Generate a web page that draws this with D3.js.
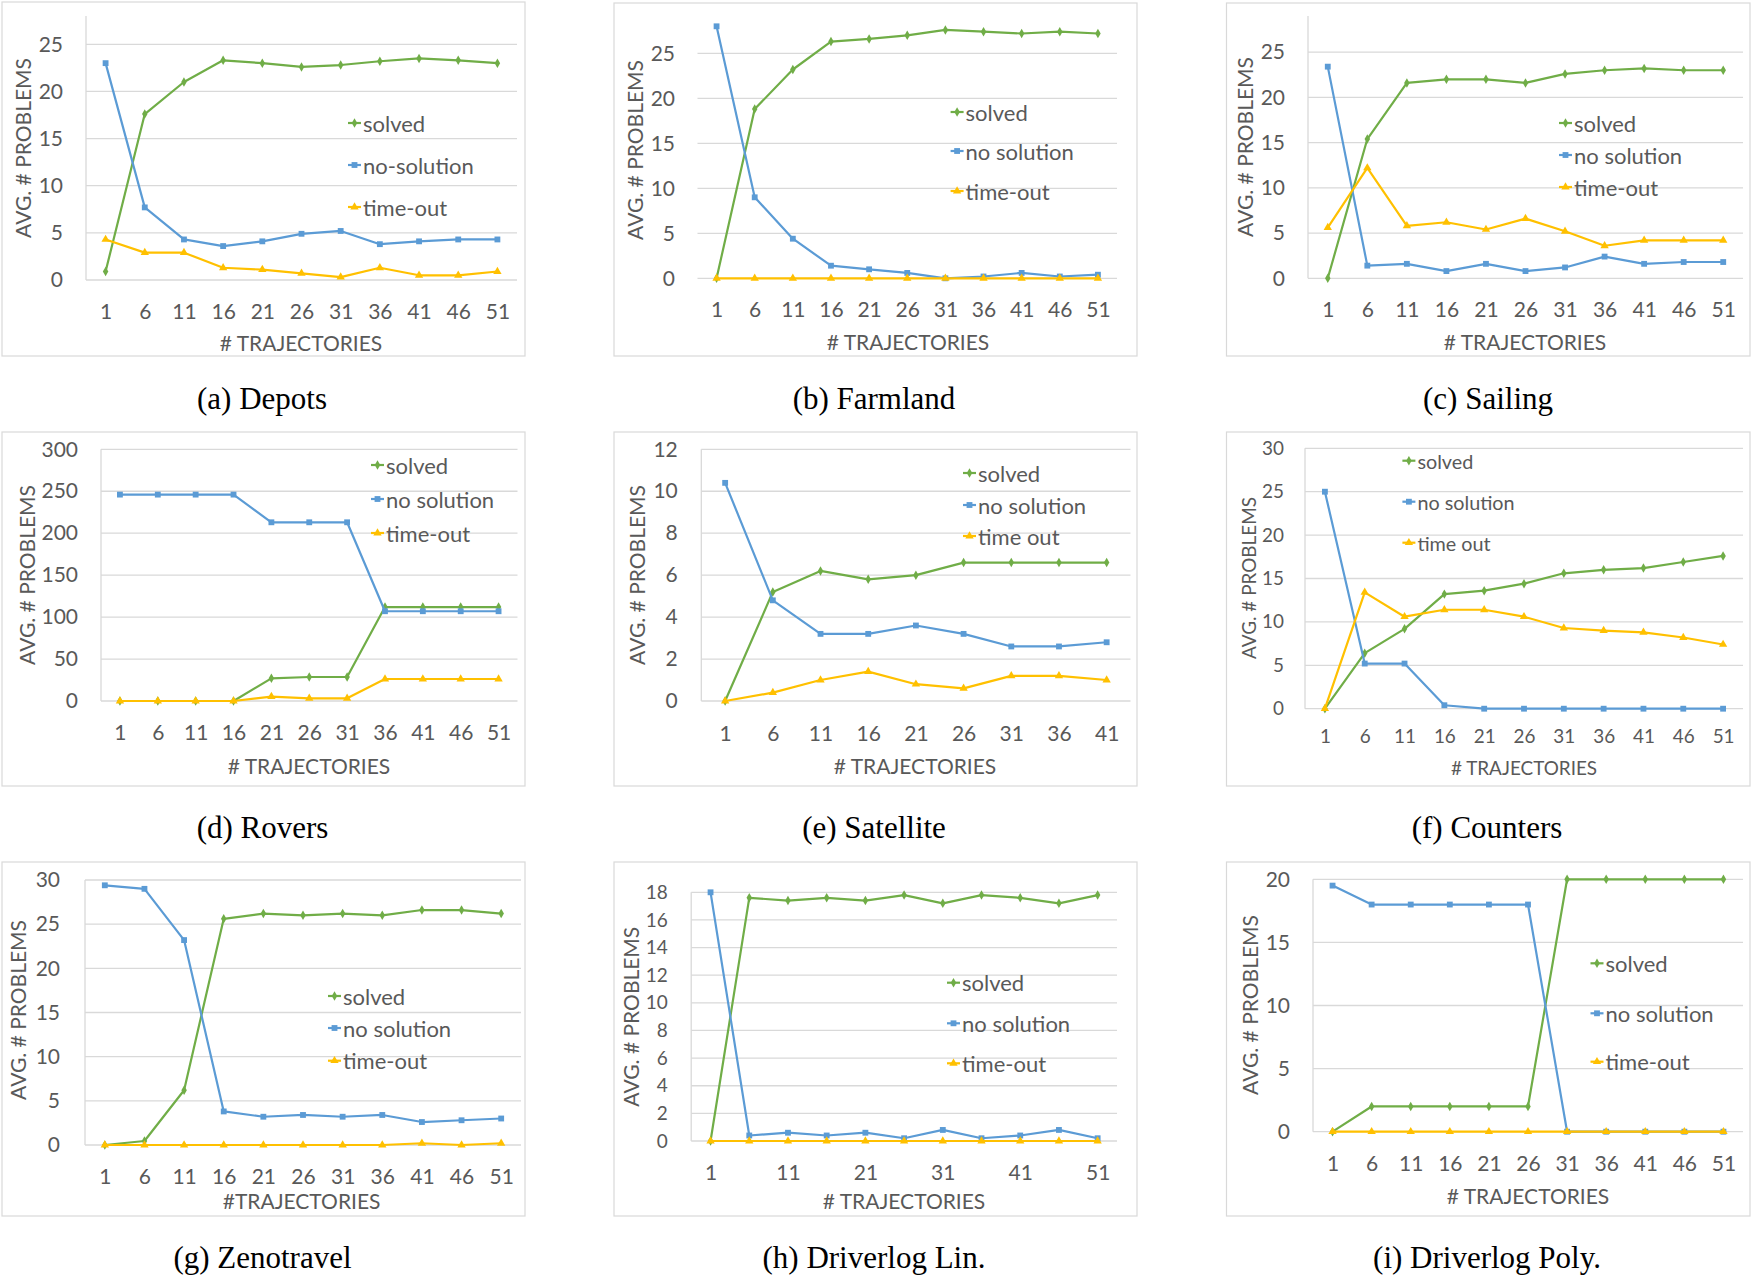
<!DOCTYPE html>
<html>
<head>
<meta charset="utf-8">
<script src="https://cdn.jsdelivr.net/npm/d3@7"></script>
<style>
  body { margin: 0; background: #fff; }
  svg text { font-family: Lato, "Open Sans", sans-serif; }
</style>
</head>
<body>
<svg id="chart"></svg>
<script>
// x categories (# trajectories)
const trajectories = [1, 6, 11, 16, 21, 26, 31, 36, 41, 46, 51];
const trajectoriesSatellite = [1, 6, 11, 16, 21, 26, 31, 36, 41];

// (a) Depots
const depotsSolved = [0.9, 17.6, 21.0, 23.3, 23.0, 22.6, 22.8, 23.2, 23.5, 23.3, 23.0];
const depotsNoSolution = [23.0, 7.7, 4.3, 3.6, 4.1, 4.9, 5.2, 3.8, 4.1, 4.3, 4.3];
const depotsTimeout = [4.3, 2.9, 2.9, 1.3, 1.1, 0.7, 0.3, 1.3, 0.5, 0.5, 0.9];

// (b) Farmland
const farmlandSolved = [0, 18.8, 23.2, 26.3, 26.6, 27.0, 27.6, 27.4, 27.2, 27.4, 27.2];
const farmlandNoSolution = [28.0, 9.0, 4.4, 1.4, 1.0, 0.6, 0, 0.2, 0.6, 0.2, 0.4];
const farmlandTimeout = [0, 0, 0, 0, 0, 0, 0, 0, 0, 0, 0];

// (c) Sailing
const sailingSolved = [0, 15.4, 21.6, 22.0, 22.0, 21.6, 22.6, 23.0, 23.2, 23.0, 23.0];
const sailingNoSolution = [23.4, 1.4, 1.6, 0.8, 1.6, 0.8, 1.2, 2.4, 1.6, 1.8, 1.8];
const sailingTimeout = [5.6, 12.2, 5.8, 6.2, 5.4, 6.6, 5.2, 3.6, 4.2, 4.2, 4.2];

// (d) Rovers
const roversSolved = [0, 0, 0, 0, 27, 28.6, 28.6, 112, 112, 112, 112];
const roversNoSolution = [246, 246, 246, 246, 213, 213, 213, 107, 107, 107, 107];
const roversTimeout = [0, 0, 0, 0, 5.2, 3.2, 3.2, 26.2, 26.2, 26.2, 26.2];

// (e) Satellite
const satelliteSolved = [0, 5.2, 6.2, 5.8, 6.0, 6.6, 6.6, 6.6, 6.6];
const satelliteNoSolution = [10.4, 4.8, 3.2, 3.2, 3.6, 3.2, 2.6, 2.6, 2.8];
const satelliteTimeout = [0, 0.4, 1.0, 1.4, 0.8, 0.6, 1.2, 1.2, 1.0];

// (f) Counters
const countersSolved = [0, 6.4, 9.2, 13.2, 13.6, 14.4, 15.6, 16.0, 16.2, 16.9, 17.6];
const countersNoSolution = [25.0, 5.2, 5.2, 0.4, 0, 0, 0, 0, 0, 0, 0];
const countersTimeout = [0, 13.4, 10.6, 11.4, 11.4, 10.6, 9.3, 9.0, 8.8, 8.2, 7.4];

// (g) Zenotravel
const zenoSolved = [0, 0.45, 6.2, 25.6, 26.2, 26.0, 26.2, 26.0, 26.6, 26.6, 26.2];
const zenoNoSolution = [29.4, 29.0, 23.2, 3.8, 3.2, 3.4, 3.2, 3.4, 2.6, 2.8, 3.0];
const zenoTimeout = [0, 0, 0, 0, 0, 0, 0, 0, 0.2, 0, 0.2];

// (h) Driverlog Lin.
const driverLinSolved = [0, 17.6, 17.4, 17.6, 17.4, 17.8, 17.2, 17.8, 17.6, 17.2, 17.8];
const driverLinNoSolution = [18.0, 0.4, 0.6, 0.4, 0.6, 0.2, 0.8, 0.2, 0.4, 0.8, 0.2];
const driverLinTimeout = [0, 0, 0, 0, 0, 0, 0, 0, 0, 0, 0];

// (i) Driverlog Poly.
const driverPolySolved = [0, 2, 2, 2, 2, 2, 20, 20, 20, 20, 20];
const driverPolyNoSolution = [19.5, 18, 18, 18, 18, 18, 0, 0, 0, 0, 0];
const driverPolyTimeout = [0, 0, 0, 0, 0, 0, 0, 0, 0, 0, 0];

// tick values
const ticks25 = [0, 5, 10, 15, 20, 25];
const ticks30 = [0, 5, 10, 15, 20, 25, 30];
const ticks300 = [0, 50, 100, 150, 200, 250, 300];
const ticks12 = [0, 2, 4, 6, 8, 10, 12];
const ticks18 = [0, 2, 4, 6, 8, 10, 12, 14, 16, 18];
const ticks20 = [0, 5, 10, 15, 20];
const ticksLin = [1, 11, 21, 31, 41, 51];

// legend labels
const legendHyphen = ["solved", "no-solution", "time-out"];
const legendStd = ["solved", "no solution", "time-out"];
const legendNoDash = ["solved", "no solution", "time out"];

const captions = ["(a) Depots", "(b) Farmland", "(c) Sailing", "(d) Rovers", "(e) Satellite",
                  "(f) Counters", "(g) Zenotravel", "(h) Driverlog Lin.", "(i) Driverlog Poly."];

const colors = ["#70ad47", "#5b9bd5", "#ffc000"];
const symbols = [d3.symbolDiamond, d3.symbolSquare, d3.symbolTriangle];
const symbolSizes = [26, 34, 30];
const textColor = "#595959";
const gridColor = "#d9d9d9";

const W = 1752, H = 1277;

const svg = d3.select('#chart').attr('width', W).attr('height', H);

// layout of each panel (frame, plot area, label positions)
const panels = [
    { cats: trajectories, series: [depotsSolved, depotsNoSolution, depotsTimeout], legend: legendHyphen,
      frame: [2, 2, 525, 356], plot: [86, 16, 517, 280], yMax: 28, yTicks: ticks25, axisLine: true,
      yPad: 23, xPad: 24.5, legX: 363, legY: [123, 165, 207],
      yTitle: [22, 148], xTitle: [301, 342], xTitleText: "# TRAJECTORIES", cap: [262, 409] },
    { cats: trajectories, series: [farmlandSolved, farmlandNoSolution, farmlandTimeout], legend: legendStd,
      frame: [614, 3, 1137, 356], plot: [697.5, 26.3, 1117, 278.3], yMax: 28, yTicks: ticks25, axisLine: false,
      yPad: 22.5, xPad: 24, legX: 965.6, legY: [112, 151, 191],
      yTitle: [634, 150], xTitle: [908, 341], xTitleText: "# TRAJECTORIES", cap: [874, 409] },
    { cats: trajectories, series: [sailingSolved, sailingNoSolution, sailingTimeout], legend: legendStd,
      frame: [1226.5, 3, 1750, 356], plot: [1308, 16, 1743, 278.3], yMax: 29, yTicks: ticks25, axisLine: true,
      yPad: 23, xPad: 24, legX: 1574, legY: [123, 155, 187],
      yTitle: [1244, 147], xTitle: [1525, 341], xTitleText: "# TRAJECTORIES", cap: [1488, 409] },
    { cats: trajectories, series: [roversSolved, roversNoSolution, roversTimeout], legend: legendStd,
      frame: [2, 432, 525, 786], plot: [101, 449.3, 517.5, 701], yMax: 300, yTicks: ticks300, axisLine: true,
      yPad: 23, xPad: 24.5, legX: 386, legY: [465, 499, 533],
      yTitle: [26, 575], xTitle: [309, 765], xTitleText: "# TRAJECTORIES", cap: [262.5, 838] },
    { cats: trajectoriesSatellite, series: [satelliteSolved, satelliteNoSolution, satelliteTimeout], legend: legendNoDash,
      frame: [614, 432, 1137, 786], plot: [701.3, 449.3, 1130.5, 701], yMax: 12, yTicks: ticks12, axisLine: true,
      yPad: 23.5, xPad: 25, legX: 978, legY: [473, 505, 536],
      yTitle: [636, 575], xTitle: [915, 765], xTitleText: "# TRAJECTORIES", cap: [874, 838] },
    { cats: trajectories, series: [countersSolved, countersNoSolution, countersTimeout], legend: legendNoDash,
      frame: [1226.5, 432, 1750, 786], plot: [1305, 448.3, 1743, 708.7], yMax: 30, yTicks: ticks30, axisLine: true,
      yPad: 21, xPad: 21, legX: 1417.4, legY: [460.7, 501.7, 542.7], small: true,
      yTitle: [1248, 578], xTitle: [1524, 767], xTitleText: "# TRAJECTORIES", cap: [1487, 838] },
    { cats: trajectories, series: [zenoSolved, zenoNoSolution, zenoTimeout], legend: legendStd,
      frame: [2, 862, 525, 1216], plot: [85, 880, 521, 1145], yMax: 30, yTicks: ticks30, axisLine: true,
      yPad: 25, xPad: 24, legX: 343, legY: [996, 1028, 1060.7],
      yTitle: [17, 1010], xTitle: [301.6, 1200.7], xTitleText: "#TRAJECTORIES", cap: [262.5, 1268] },
    { cats: trajectories, series: [driverLinSolved, driverLinNoSolution, driverLinTimeout], legend: legendStd,
      frame: [614, 862, 1137, 1216], plot: [691.2, 892.3, 1117, 1141], yMax: 18, yTicks: ticks18, axisLine: true,
      xTickValues: ticksLin, yTickFont: 19,
      yPad: 23.4, xPad: 24, legX: 962, legY: [982.7, 1023.3, 1063.3],
      yTitle: [630.5, 1016.7], xTitle: [904, 1200.7], xTitleText: "# TRAJECTORIES", cap: [874, 1268] },
    { cats: trajectories, series: [driverPolySolved, driverPolyNoSolution, driverPolyTimeout], legend: legendStd,
      frame: [1226.5, 862, 1750, 1216], plot: [1313, 879.3, 1743, 1131.7], yMax: 20, yTicks: ticks20, axisLine: true,
      yPad: 23, xPad: 24, legX: 1605.5, legY: [963.3, 1013.3, 1061.7],
      yTitle: [1249, 1005], xTitle: [1528, 1195], xTitleText: "# TRAJECTORIES", cap: [1487, 1268] }
];

panels.forEach((p, i) => drawPanel(p, captions[i]));

function drawPanel(p, caption) {
    const k = p.small ? 0.9 : 1;
    const tickFont = 21 * k;
    const titleFont = 21 * k;
    const legendFont = 22 * k;

    const g = svg.append('g');

    g.append('rect')
        .attr('x', p.frame[0]).attr('y', p.frame[1])
        .attr('width', p.frame[2] - p.frame[0]).attr('height', p.frame[3] - p.frame[1])
        .attr('fill', 'none').attr('stroke', gridColor).attr('stroke-width', 1.2);

    const x = d3.scalePoint().domain(p.cats).range([p.plot[0], p.plot[2]]).padding(0.5);
    const y = d3.scaleLinear().domain([0, p.yMax]).range([p.plot[3], p.plot[1]]);

    // horizontal gridlines
    g.selectAll('.grid').data(p.yTicks).join('line')
        .attr('class', 'grid')
        .attr('x1', p.plot[0]).attr('x2', p.plot[2])
        .attr('y1', d => y(d)).attr('y2', d => y(d))
        .attr('stroke', gridColor).attr('stroke-width', 1.3);

    if (p.axisLine) {
        g.append('line')
            .attr('x1', p.plot[0]).attr('x2', p.plot[0])
            .attr('y1', p.plot[1]).attr('y2', p.plot[3])
            .attr('stroke', gridColor).attr('stroke-width', 1.3);
    }

    const yAxis = g.append('g')
        .attr('transform', `translate(${p.plot[0]},0)`)
        .call(d3.axisLeft(y).tickValues(p.yTicks).tickSize(0).tickPadding(p.yPad));
    yAxis.select('.domain').remove();
    yAxis.selectAll('text')
        .attr('fill', textColor)
        .style('font-size', (p.yTickFont || tickFont) + 'px');

    const xAxis = g.append('g')
        .attr('transform', `translate(0,${p.plot[3]})`)
        .call(d3.axisBottom(x).tickValues(p.xTickValues || p.cats).tickSize(0).tickPadding(p.xPad));
    xAxis.select('.domain').remove();
    xAxis.selectAll('text')
        .attr('fill', textColor)
        .style('font-size', tickFont + 'px');

    // series lines and markers
    const line = d3.line().x((d, j) => x(p.cats[j])).y(d => y(d));
    p.series.forEach((vals, s) => {
        g.append('path')
            .datum(vals)
            .attr('d', line)
            .attr('fill', 'none')
            .attr('stroke', colors[s])
            .attr('stroke-width', 2.2)
            .attr('stroke-linejoin', 'round');

        g.selectAll('.mk' + s).data(vals).join('path')
            .attr('class', 'mk' + s)
            .attr('transform', (d, j) => `translate(${x(p.cats[j])},${y(d)})`)
            .attr('d', d3.symbol().type(symbols[s]).size(symbolSizes[s]))
            .attr('fill', colors[s]);
    });

    // legend
    p.legend.forEach((lab, s) => {
        const ly = p.legY[s];
        g.append('line')
            .attr('x1', p.legX - 15).attr('x2', p.legX - 2)
            .attr('y1', ly).attr('y2', ly)
            .attr('stroke', colors[s]).attr('stroke-width', 2.2);
        g.append('path')
            .attr('transform', `translate(${p.legX - 8.5},${ly})`)
            .attr('d', d3.symbol().type(symbols[s]).size(symbolSizes[s]))
            .attr('fill', colors[s]);
        g.append('text')
            .attr('x', p.legX).attr('y', ly)
            .attr('dominant-baseline', 'central')
            .attr('fill', textColor)
            .style('font-size', legendFont + 'px')
            .text(lab);
    });

    // axis titles
    g.append('text')
        .attr('transform', `translate(${p.yTitle[0]},${p.yTitle[1]}) rotate(-90)`)
        .attr('text-anchor', 'middle')
        .attr('dominant-baseline', 'central')
        .attr('fill', textColor)
        .style('font-size', titleFont + 'px')
        .text('AVG. # PROBLEMS');

    g.append('text')
        .attr('x', p.xTitle[0]).attr('y', p.xTitle[1])
        .attr('text-anchor', 'middle')
        .attr('dominant-baseline', 'central')
        .attr('fill', textColor)
        .style('font-size', titleFont + 'px')
        .text(p.xTitleText);

    // sub-figure caption
    g.append('text')
        .attr('x', p.cap[0]).attr('y', p.cap[1])
        .attr('text-anchor', 'middle')
        .attr('fill', '#000')
        .style('font-family', '"Liberation Serif", "Times New Roman", serif')
        .style('font-size', '31px')
        .text(caption);
}
</script>
</body>
</html>
